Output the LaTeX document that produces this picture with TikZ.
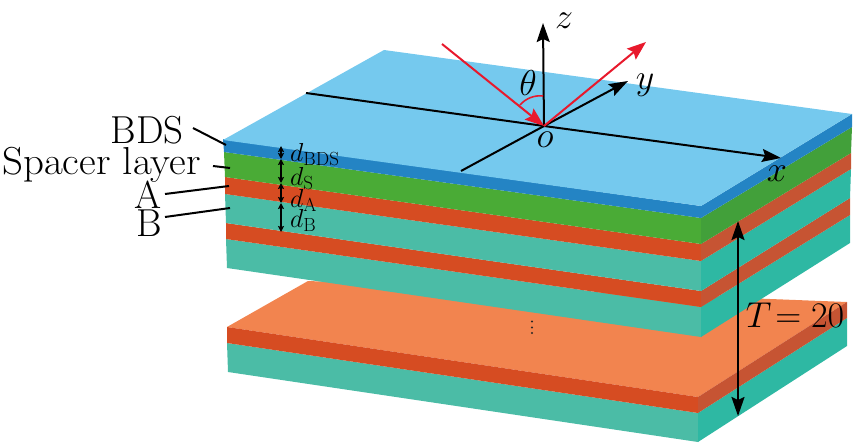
\documentclass[tikz,border=0pt]{standalone}
\usepackage{fix-cm}
\usetikzlibrary{arrows.meta,calc}
\definecolor{topc}{HTML}{75C9EE}
\definecolor{bluef}{HTML}{2484C4}
\definecolor{greenf}{HTML}{4AAB36}
\definecolor{greens}{HTML}{42A03A}
\definecolor{redf}{HTML}{D64C22}
\definecolor{reds}{HTML}{C65433}
\definecolor{tealf}{HTML}{4BBCA6}
\definecolor{teals}{HTML}{2EB8A3}
\definecolor{orangec}{HTML}{F2844F}
\definecolor{rayred}{HTML}{E8192C}
\DeclareMathSizes{39}{39}{27}{20}
\DeclareMathSizes{36}{36}{25}{18}
\DeclareMathSizes{26}{26}{19}{14}
\tikzset{
  x=1pt,y=-1pt,
  lab/.style={inner sep=0pt,font=\fontsize{39}{39}\selectfont},
  mlab/.style={inner sep=0pt,font=\fontsize{36}{36}\selectfont},
  dlab/.style={inner sep=0pt,anchor=base west,font=\fontsize{26}{26}\selectfont},
  leader/.style={line width=2pt,black},
  axis/.style={line width=2pt,black,-{Stealth[length=19pt,width=13pt,inset=3pt]}},
  ray/.style={line width=2pt,rayred,-{Stealth[length=19pt,width=14pt,inset=3pt]}},
  thick arrow/.style={line width=2pt,black,{Stealth[length=19pt,width=13pt,inset=3pt]}-{Stealth[length=19pt,width=13pt,inset=3pt]}},
  dim/.style={line width=1.3pt,black,{Stealth[length=6pt,width=6pt,inset=1pt]}-{Stealth[length=6pt,width=6pt,inset=1pt]}},
}
\begin{document}
\begin{tikzpicture}
\useasboundingbox (0,0) rectangle (857,444);
% lower slab
\fill[orangec] (227,327) -- (308,281) -- (847,302) -- (698,397) -- cycle;
\fill[tealf] (227,343) -- (698,413) -- (698,442) -- (228,372) -- cycle;
\fill[teals] (698,413) -- (847,318) -- (847,346) -- (698,442) -- cycle;
\fill[redf] (227,327) -- (698,397) -- (698,413) -- (227,343) -- cycle;
\fill[reds] (698,397) -- (847,302) -- (847,318) -- (698,413) -- cycle;
% upper stack, front faces
\fill[tealf] (226,239) -- (701,307) -- (701,337) -- (227,268) -- cycle;
\fill[redf] (226,223) -- (701,291) -- (701,307) -- (226,239) -- cycle;
\fill[tealf] (225,194) -- (701,261) -- (701,291) -- (226,223) -- cycle;
\fill[redf] (225,177) -- (701,244) -- (701,261) -- (225,194) -- cycle;
\fill[greenf] (224,152) -- (701,218) -- (701,244) -- (225,177) -- cycle;
\fill[bluef] (223,139) -- (701,206) -- (701,218) -- (224,152) -- cycle;
% upper stack, side faces
\fill[teals] (701,307) -- (850,215) -- (850,243) -- (701,337) -- cycle;
\fill[reds] (701,291) -- (850,198) -- (850,215) -- (701,307) -- cycle;
\fill[teals] (701,261) -- (851,169) -- (850,198) -- (701,291) -- cycle;
\fill[reds] (701,244) -- (851,153) -- (851,169) -- (701,261) -- cycle;
\fill[greens] (701,218) -- (852,127) -- (851,153) -- (701,244) -- cycle;
\fill[bluef] (701,206) -- (852,114) -- (852,127) -- (701,218) -- cycle;
% top face
\fill[topc] (223,140) -- (384,50) -- (852,114) -- (701,206) -- cycle;
% named points
\coordinate (o) at (544,126);
\coordinate (zT) at (543,23);
\coordinate (xA) at (306,93);
\coordinate (xT) at (781,158);
\coordinate (yA) at (461,171);
\coordinate (yT) at (628,81);
\coordinate (rI) at (442,44);
\coordinate (rO) at (646,42);
\coordinate (aS) at (543,96);
\coordinate (tT) at (738,221);
\coordinate (tB) at (738,416);
\coordinate (d0) at (281,146);
\coordinate (d1) at (281,159);
\coordinate (d2) at (281,183);
\coordinate (d3) at (281,203);
\coordinate (d4) at (281,232);
% axes
\draw[line width=2pt] (xA) -- (o);
\draw[axis] (o) -- (xT);
\draw[line width=2pt] (yA) -- (o);
\draw[axis] (o) -- (yT);
\draw[axis] (o) -- (zT);
% rays
\draw[rayred,line width=1.6pt] (aS) .. controls (535,95) and (526,98) .. (520,105);
\draw[ray] (rI) -- (o);
\draw[ray] (o) -- (rO);
% T arrow
\draw[thick arrow] (tT) -- (tB);
% thickness arrows
\draw[dim] (d0) -- (d1);
\draw[dim] (d1) -- (d2);
\draw[dim] (d2) -- (d3);
\draw[dim] (d3) -- (d4);
% labels
\node[mlab] (lz) at (564,21) {$z$};
\node[mlab] (ly) at (645,85) {$y$};
\node[mlab] (lth) at (528,83) {$\theta$};
\node[mlab] (lo) at (545,140) {$o$};
\node[mlab] (lx) at (777,174) {$x$};
\node[mlab,anchor=center] (lT) at (795,315) {$T\!=20$};
\node[dlab] (dbds) at (290,161) {$d_{\mathrm{BDS}}$};
\node[dlab] (ds) at (290,185) {$d_{\mathrm{S}}$};
\node[dlab] (da) at (290,207) {$d_{\mathrm{A}}$};
\node[dlab] (db) at (290,227) {$d_{\mathrm{B}}$};
\node[lab,anchor=east] (lbds) at (184,130) {BDS};
\node[lab,anchor=east] (lsp) at (201,165) {\scalebox{1.05}[1]{Spacer layer}};
\node[lab,anchor=east] (la) at (162,195) {A};
\node[lab,anchor=east] (lb) at (162,223) {B};
% leaders
\coordinate (pb) at (226,145);
\coordinate (ps) at (230,168);
\coordinate (pa) at (229,186);
\coordinate (pB) at (230,208);
\draw[leader] (193,128) -- (pb);
\draw[leader] (213,166) -- (ps);
\draw[leader] (165,194) -- (pa);
\draw[leader] (165,217) -- (pB);
% dots
\fill[black!85] (532,321.5) circle (1.1) (532,327.5) circle (1.1) (532,333) circle (1.1);
\end{tikzpicture}
\end{document}
